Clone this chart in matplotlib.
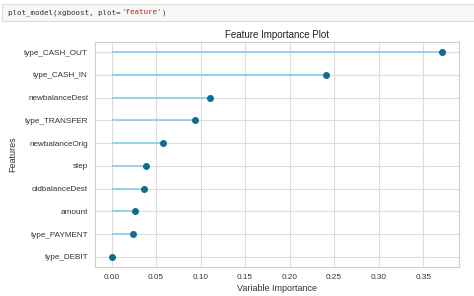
import matplotlib.pyplot as plt
from matplotlib.patches import Rectangle
import numpy as np

features = ['type_CASH_OUT', 'type_CASH_IN', 'newbalanceDest', 'type_TRANSFER',
            'newbalanceOrig', 'step', 'oldbalanceDest', 'amount',
            'type_PAYMENT', 'type_DEBIT']
importance = [0.3717, 0.2404, 0.1106, 0.0938, 0.0583, 0.0389, 0.0362,
              0.0269, 0.0239, 0.0]

plt.rcParams['font.family'] = ['Liberation Sans', 'DejaVu Sans']

fig = plt.figure(figsize=(4.74, 2.96), dpi=100)

# notebook code cell on top
fig.patches.append(Rectangle((2 / 474, 1 - 21 / 296), 480 / 474, 17 / 296,
                             transform=fig.transFigure, facecolor='#f7f7f7',
                             edgecolor='#dcdcdc', linewidth=0.8))
code_size = 5.4
cw = code_size * 100 / 72 * 0.602  # char width in px
parts = [("plot_model(xgboost, plot=", '#333333'), ("'feature'", '#ba2121'), (")", '#333333')]
x0 = 8
for txt, col in parts:
    fig.text(x0 / 474, 1 - 12.5 / 296, txt, family='DejaVu Sans Mono',
             fontsize=code_size, color=col, va='center')
    x0 += len(txt) * cw

ax = fig.add_axes([95 / 474, 1 - 267 / 296, 364 / 474, 225 / 296])
ax.set_facecolor('white')
ypos = np.arange(len(features))[::-1]
ax.hlines(ypos, 0, importance, color='skyblue', linewidth=1.2, zorder=2)
ax.plot(importance, ypos, 'o', color='#136a92', markersize=4, zorder=3)
ax.set_yticks(ypos)
ax.set_yticklabels(features)
ticks = np.arange(0, 0.36, 0.05)
ax.set_xticks(ticks)
ax.set_xticklabels(['%.2f' % v for v in ticks])
ax.grid(True, color='#dddddd', linewidth=0.8)
ax.set_axisbelow(True)
for s in ax.spines.values():
    s.set_color('#d0d0d0')
    s.set_linewidth(0.8)
ax.tick_params(length=0, labelsize=5.9, labelcolor='#333333', pad=5)
ax.set_title('Feature Importance Plot', fontsize=7, color='#222222', pad=3)
ax.set_xlabel('Variable Importance', fontsize=6.5, color='#333333', labelpad=2)
ax.set_ylabel('Features', fontsize=6.5, color='#333333', labelpad=5)

plt.savefig('out.png', dpi=100)
